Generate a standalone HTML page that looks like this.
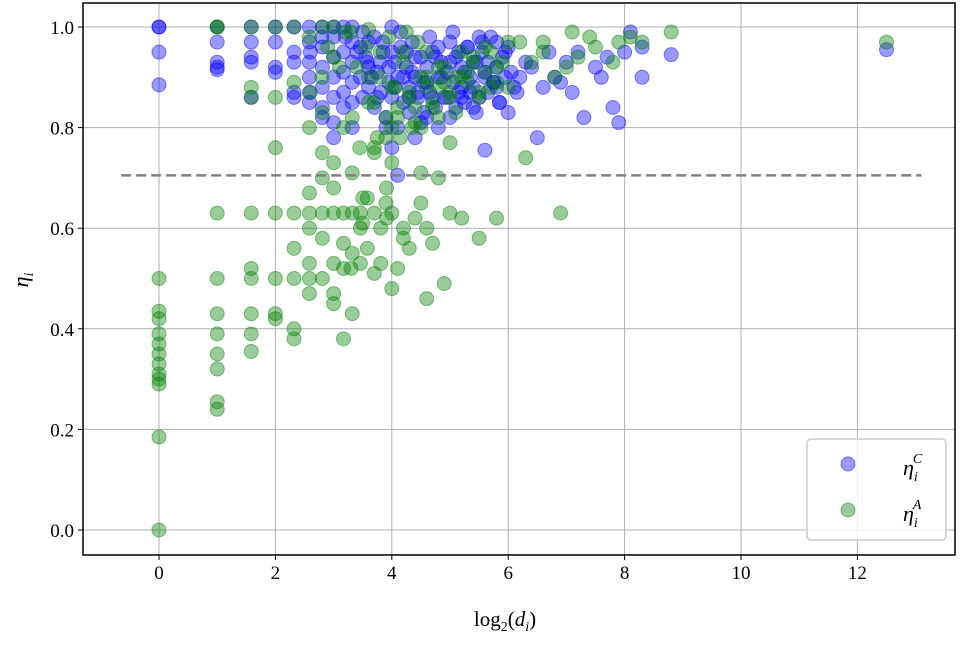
<!DOCTYPE html>
<html><head><meta charset="utf-8"><style>
body{margin:0;background:#fff;width:964px;height:640px;overflow:hidden;position:relative}
svg{font-family:"Liberation Serif","DejaVu Serif",serif}
</style></head><body>
<svg id="chart" width="964" height="640">
<g id="grid"></g>
<g id="pts"></g>
<g id="axes"></g>
</svg>
<script>
const xTicks=[0,2,4,6,8,10,12];
const yTicks=[0.0,0.2,0.4,0.6,0.8,1.0];
const yTickLabels=["0.0","0.2","0.4","0.6","0.8","1.0"];
const threshold=0.705;
const cX=[0,0,0,0,1,1,1,1,1,1.585,1.585,1.585,1.585,1.585,2,2,2,2,2.32,2.32,2.32,2.32,2.32,2.585,2.585,2.585,2.585,2.585,2.585,2.807,2.807,2.807,2.807,2.807,2.807,3,3,3,3,3,3,3,3.17,3.17,3.17,3.17,3.17,3.32,3.32,3.32,3.32,3.32,3.32,3.46,3.46,3.5,3.58,3.6,3.7,3.7,3.75,3.81,3.85,3.9,3.95,4,4,4.05,4.1,4.1,4.15,4.2,4.25,4.3,4.3,4.35,4.4,4.45,4.5,4.5,4.55,4.6,4.65,4.7,4.75,4.8,4.85,4.9,4.95,5,5,5.05,5.1,5.15,5.2,5.25,5.3,5.35,5.4,5.45,5.5,5.55,5.6,5.65,5.7,5.75,5.8,5.85,5.9,5.95,6,6.1,6.2,6.3,6.5,6.6,6.8,7,7.1,7.3,7.5,7.8,7.9,8,8.3,8.3,8.8,12.5,5.6,4.1,4.0,3.9,4.6,5.2,5.8,6.0,3.6,4.4,4.8,5.4,
3.5,3.55,3.65,3.75,3.85,3.95,4.05,4.15,4.25,4.35,4.45,4.55,4.65,4.75,4.85,4.95,5.05,5.15,5.25,5.35,5.45,5.55,5.65,5.75,5.85,5.95,6.05,6.15,4.0,4.2,4.4,4.6,4.8,5.0,5.2,5.4,5.6,5.8,3.8,3.6,4.3,4.7,5.1,5.3,5.5,2.6,2.8,3.2,3.4,6.4,6.7,6.9,7.2,7.6,8.1,7.7];
const cY=[1,1,0.95,0.885,1,0.97,0.93,0.915,0.92,1,0.97,0.94,0.93,0.86,1,0.97,0.92,0.91,1,0.95,0.93,0.87,0.86,1,0.97,0.93,0.9,0.87,0.85,1,0.96,0.92,0.88,0.84,0.82,1,0.98,0.94,0.9,0.86,0.81,0.78,1,0.95,0.91,0.87,0.84,1,0.97,0.93,0.89,0.85,0.8,0.96,0.9,0.86,0.93,0.88,0.98,0.84,0.91,0.87,0.95,0.82,0.89,1,0.86,0.93,0.8,0.9,0.96,0.85,0.92,0.88,0.83,0.97,0.9,0.86,0.94,0.81,0.89,0.92,0.87,0.95,0.84,0.9,0.93,0.86,0.91,0.97,0.82,0.89,0.94,0.87,0.92,0.85,0.96,0.9,0.88,0.93,0.86,0.95,0.91,0.87,0.98,0.89,0.92,0.85,0.94,0.9,0.96,0.88,0.9,0.93,0.78,0.88,0.9,0.93,0.87,0.82,0.92,0.84,0.81,0.95,0.96,0.9,0.945,0.955,0.755,0.705,0.76,0.8,0.82,0.86,0.88,0.83,0.92,0.78,0.8,0.84,
0.99,0.94,0.9,0.86,0.97,0.92,0.88,0.99,0.95,0.91,0.87,0.83,0.98,0.94,0.9,0.86,0.99,0.95,0.91,0.87,0.83,0.97,0.93,0.89,0.85,0.95,0.91,0.87,0.95,0.9,0.94,0.89,0.96,0.93,0.88,0.93,0.9,0.97,0.93,0.97,0.86,0.86,0.84,0.96,0.98,0.95,0.98,0.98,0.95,0.92,0.95,0.89,0.95,0.9,0.99,0.94];
const aX=[0,0,0,0,0,0,0,0,0,0,0,0,1,1,1,1,1,1,1,1,1,1,1.585,1.585,1.585,1.585,1.585,1.585,1.585,1.585,1.585,2,2,2,2,2,2,2,2.32,2.32,2.32,2.32,2.32,2.32,2.32,2.585,2.585,2.585,2.585,2.585,2.585,2.585,2.585,2.807,2.807,2.807,2.807,2.807,2.807,2.807,3,3,3,3,3,3,3,3.17,3.17,3.17,3.17,3.17,3.32,3.32,3.32,3.32,3.32,3.46,3.46,3.46,3.58,3.58,3.7,3.7,3.7,3.81,3.81,3.91,3.91,4,4,4.1,4.2,4.3,4.4,4.5,4.6,4.7,4.8,4.9,5,5.2,5.5,5.8,6.9,3.5,3.6,3.8,4.0,4.2,4.4,4.6,4.8,5.0,5.2,5.4,5.6,5.8,6.0,6.2,6.4,6.6,6.8,7.0,7.2,7.5,7.8,8.1,8.3,8.8,12.5,3.6,3.9,4.1,4.3,4.5,4.7,4.9,5.1,5.3,5.5,5.7,3.4,3.7,4.0,4.6,5.0,4.8,
3.5,3.6,3.7,3.8,3.9,4.0,4.1,4.2,4.3,4.4,4.5,4.6,4.7,4.8,4.9,5.0,5.1,5.2,5.3,5.4,5.5,5.6,5.7,5.8,5.9,6.0,3.3,3.1,2.9,3.0,3.2,2.6,2.8,4.05,4.45,4.25,3.95,4.15,3.45,3.75,4.35,6.3,6.6,7.1,7.4,7.9,3.55,4.5,3.9,4.2,3.3,4.6];
const aY=[0,0.185,0.29,0.3,0.31,0.33,0.35,0.37,0.39,0.42,0.435,0.5,0.24,0.255,0.32,0.35,0.39,0.43,0.5,0.63,1,1,0.355,0.39,0.43,0.5,0.52,0.63,0.86,0.88,1,0.42,0.43,0.5,0.63,0.76,0.86,1,0.38,0.4,0.5,0.56,0.63,0.89,1,0.47,0.5,0.53,0.6,0.63,0.67,0.8,0.98,0.5,0.58,0.63,0.7,0.75,0.83,1,0.45,0.47,0.53,0.63,0.68,0.73,1,0.38,0.52,0.57,0.63,0.8,0.43,0.55,0.63,0.71,0.82,0.53,0.6,0.63,0.56,0.66,0.51,0.63,0.76,0.53,0.6,0.62,0.68,0.48,0.63,0.52,0.6,0.56,0.62,0.71,0.6,0.57,0.7,0.49,0.63,0.62,0.58,0.62,0.63,0.61,0.85,0.9,0.8,0.95,0.84,0.88,0.92,0.86,0.9,0.94,0.96,0.92,0.88,0.97,0.93,0.95,0.9,0.92,0.94,0.96,0.93,0.98,0.97,0.99,0.97,0.995,0.78,0.82,0.87,0.8,0.85,0.89,0.83,0.91,0.86,0.88,0.92,0.75,0.73,0.9,0.77,0.82,0.66,
0.9,0.85,0.95,0.82,0.88,0.84,0.93,0.86,0.81,0.9,0.95,0.84,0.88,0.92,0.87,0.9,0.95,0.89,0.93,0.87,0.91,0.95,0.89,0.93,0.97,0.99,0.92,0.96,0.94,0.99,0.87,0.9,0.88,0.97,0.99,0.98,0.78,0.76,0.78,0.8,0.74,0.97,0.99,0.98,0.97,0.96,0.65,0.65,0.58,0.52,0.46,0.52];
const X0=83,X1=955,Y0=3,Y1=555;
const sx=v=>159+v*58.2, sy=v=>530-v*503;
const NS="http://www.w3.org/2000/svg";
function mk(t,a,p){const e=document.createElementNS(NS,t);for(const k in a)e.setAttribute(k,a[k]);p.appendChild(e);return e;}
const grid=document.getElementById('grid'),pts=document.getElementById('pts'),axes=document.getElementById('axes');
xTicks.forEach(t=>{const l=mk('line',{x1:sx(t),x2:sx(t),y1:Y0,y2:Y1,stroke:'#b0b0b0','stroke-width':1},grid);

mk('line',{x1:sx(t),x2:sx(t),y1:Y1,y2:Y1+5,stroke:'#000'},axes);
const tx=mk('text',{x:sx(t),y:Y1+24,'text-anchor':'middle','font-size':19},axes);tx.textContent=t;
});
yTicks.forEach((t,i)=>{const l=mk('line',{x1:X0,x2:X1,y1:sy(t),y2:sy(t),stroke:'#b0b0b0','stroke-width':1},grid);

mk('line',{x1:X0-5,x2:X0,y1:sy(t),y2:sy(t),stroke:'#000'},axes);
const tx=mk('text',{x:X0-9,y:sy(t)+7,'text-anchor':'end','font-size':19},axes);tx.textContent=yTickLabels[i];
});
cX.forEach((x,i)=>{const c=mk('circle',{cx:sx(x),cy:sy(cY[i]),r:7,fill:'rgba(0,0,255,0.4)',stroke:'rgba(0,0,255,0.45)','stroke-width':1},pts);
});
aX.forEach((x,i)=>{const c=mk('circle',{cx:sx(x),cy:sy(aY[i]),r:7,fill:'rgba(0,128,0,0.4)',stroke:'rgba(0,128,0,0.45)','stroke-width':1},pts);
});
const th=mk('line',{x1:sx(-0.65),x2:sx(13.1),y1:sy(threshold),y2:sy(threshold),stroke:'#808080','stroke-width':2.5,'stroke-dasharray':'10,5'},pts);

const fr=mk('rect',{x:X0,y:Y0,width:X1-X0,height:Y1-Y0,fill:'none',stroke:'#000','stroke-width':1.5},axes);

</script>
<svg style="position:absolute;left:0;top:0" width="964" height="640">
<text x="505" y="626" text-anchor="middle" font-size="21" font-family="Liberation Serif,serif">log<tspan font-size="14" dy="5">2</tspan><tspan dy="-5">(</tspan><tspan font-style="italic">d</tspan><tspan font-style="italic" font-size="14" dy="5">i</tspan><tspan dy="-5">)</tspan></text>
<text transform="translate(28,280) rotate(-90)" text-anchor="middle" font-size="22" font-style="italic" font-family="Liberation Serif,serif">η<tspan font-size="14" dy="5">i</tspan></text>
<g>
<rect x="807" y="439" width="139" height="101" rx="4" fill="rgba(255,255,255,0.8)" stroke="#ccc" stroke-width="1.5"/>
<circle cx="848" cy="464" r="7" fill="rgba(0,0,255,0.4)" stroke="rgba(0,0,255,0.45)"/>
<text x="903" y="475" font-size="22" font-style="italic" font-family="Liberation Serif,serif">η<tspan font-size="14" dy="6">i</tspan><tspan font-size="14" dx="-5" dy="-18">C</tspan></text>
<circle cx="848" cy="510" r="7" fill="rgba(0,128,0,0.4)" stroke="rgba(0,128,0,0.45)"/>
<text x="903" y="521" font-size="22" font-style="italic" font-family="Liberation Serif,serif">η<tspan font-size="14" dy="6">i</tspan><tspan font-size="14" dx="-5" dy="-18">A</tspan></text>
</g>
</svg>
</body></html>
